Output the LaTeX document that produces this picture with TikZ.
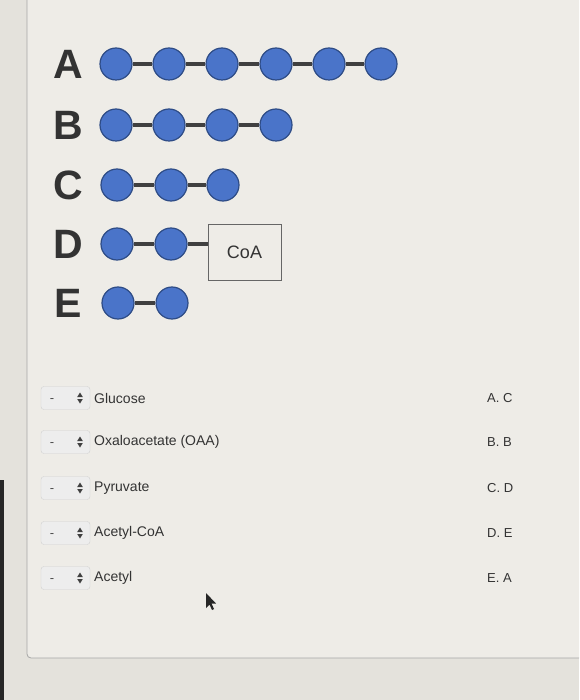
\documentclass[tikz,border=0pt]{standalone}
\usepackage{fontspec}
\setmainfont{Liberation Sans}
\usetikzlibrary{calc}
\usetikzlibrary{positioning}

\begin{document}
\begin{tikzpicture}[x=1pt, y=-1pt]
\tikzset{carbon/.style={circle,fill=carbonblue,draw=carbonedge,line width=1.2pt,inner sep=0,minimum size=32pt},
bond/.style={draw=black!75,line width=3.5pt},
rowlabel/.style={font=\fontsize{41}{41}\selectfont\bfseries,text=black!80,anchor=center},
picker/.style={rounded corners=3pt,fill=black!7,draw=black!18,minimum width=49pt,minimum height=23pt,inner sep=0},
item/.style={font=\fontsize{14}{14}\selectfont,text=black!80,anchor=west,inner sep=0},
answer/.style={font=\fontsize{13}{13}\selectfont,text=black!80,anchor=west,inner sep=0}}
\definecolor{screen}{HTML}{E4E2DC}
\definecolor{panel}{HTML}{EEECE7}
\definecolor{carbonblue}{HTML}{4A74C9}
\definecolor{carbonedge}{HTML}{2E4C86}

\useasboundingbox (0,0) rectangle (579,700);
\clip (0,0) rectangle (579,700);

% background and panel
\fill[screen] (0,0) rectangle (579,700);
\fill[black!85] (0,480) rectangle (4,700);
\draw[black!35,line width=0.8pt,fill=panel,rounded corners=4pt] (27,-10) rectangle (590,658);

% row labels
\node[rowlabel] (la) at (68,64) {A};
\node[rowlabel] (lb) at (68,125) {B};
\node[rowlabel] (lc) at (68,185) {C};
\node[rowlabel] (ld) at (68,244) {D};
\node[rowlabel] (le) at (68,303) {E};

% carbon chains
\foreach \i/\x in {1/116,2/169,3/222,4/276,5/329,6/381}
  \node[carbon] (a\i) at (\x,64) {};
\foreach \i/\x in {1/116,2/169,3/222,4/276}
  \node[carbon] (b\i) at (\x,125) {};
\foreach \i/\x in {1/117,2/171,3/223}
  \node[carbon] (c\i) at (\x,185) {};
\foreach \i/\x in {1/117,2/171}
  \node[carbon] (d\i) at (\x,244) {};
\foreach \i/\x in {1/118,2/172}
  \node[carbon] (e\i) at (\x,303) {};
\node[draw=black!60,line width=0.8pt,minimum width=73pt,minimum height=56pt,font=\fontsize{18}{18}\selectfont,text=black!80] (coa) at (244.5,252) {CoA};
\coordinate (dend) at (coa.west |- d2);

\foreach \a/\b in {a1/a2,a2/a3,a3/a4,a4/a5,a5/a6,b1/b2,b2/b3,b3/b4,c1/c2,c2/c3,d1/d2,e1/e2}
  \draw[bond] (\a) -- (\b);
\draw[bond] (d2) -- (dend);

% pickers
\foreach \n/\y/\t in {1/398/Glucose,2/442/Oxaloacetate (OAA),3/488/Pyruvate,4/533/Acetyl-CoA,5/578/Acetyl}{
  \node[picker] (p\n) at (65.5,\y) {};
  \node[font=\fontsize{13}{13}\selectfont,text=black!70] (pd\n) at (52,\y+3) {-};
  \fill[black!75] (80,\y-1) -- ++(-2.8,0) -- ++(2.8,-4.5) -- ++(2.8,4.5) -- cycle;
  \fill[black!75] (80,\y+1) -- ++(-2.8,0) -- ++(2.8,4.5) -- ++(2.8,-4.5) -- cycle;
  \node[item] (t\n) at (94,\y) {\t};
}

% answer list
\node[answer] (r1) at (487,398) {A. C};
\node[answer] (r2) at (487,442) {B. B};
\node[answer] (r3) at (487,488) {C. D};
\node[answer] (r4) at (487,533) {D. E};
\node[answer] (r5) at (487,578) {E. A};

% cursor
\fill[black!85] (206,593) -- (206,608) -- (209.5,604.5) -- (212,610) -- (214,609) -- (211.5,603.5) -- (216,603.5) -- cycle;
\end{tikzpicture}
\end{document}
